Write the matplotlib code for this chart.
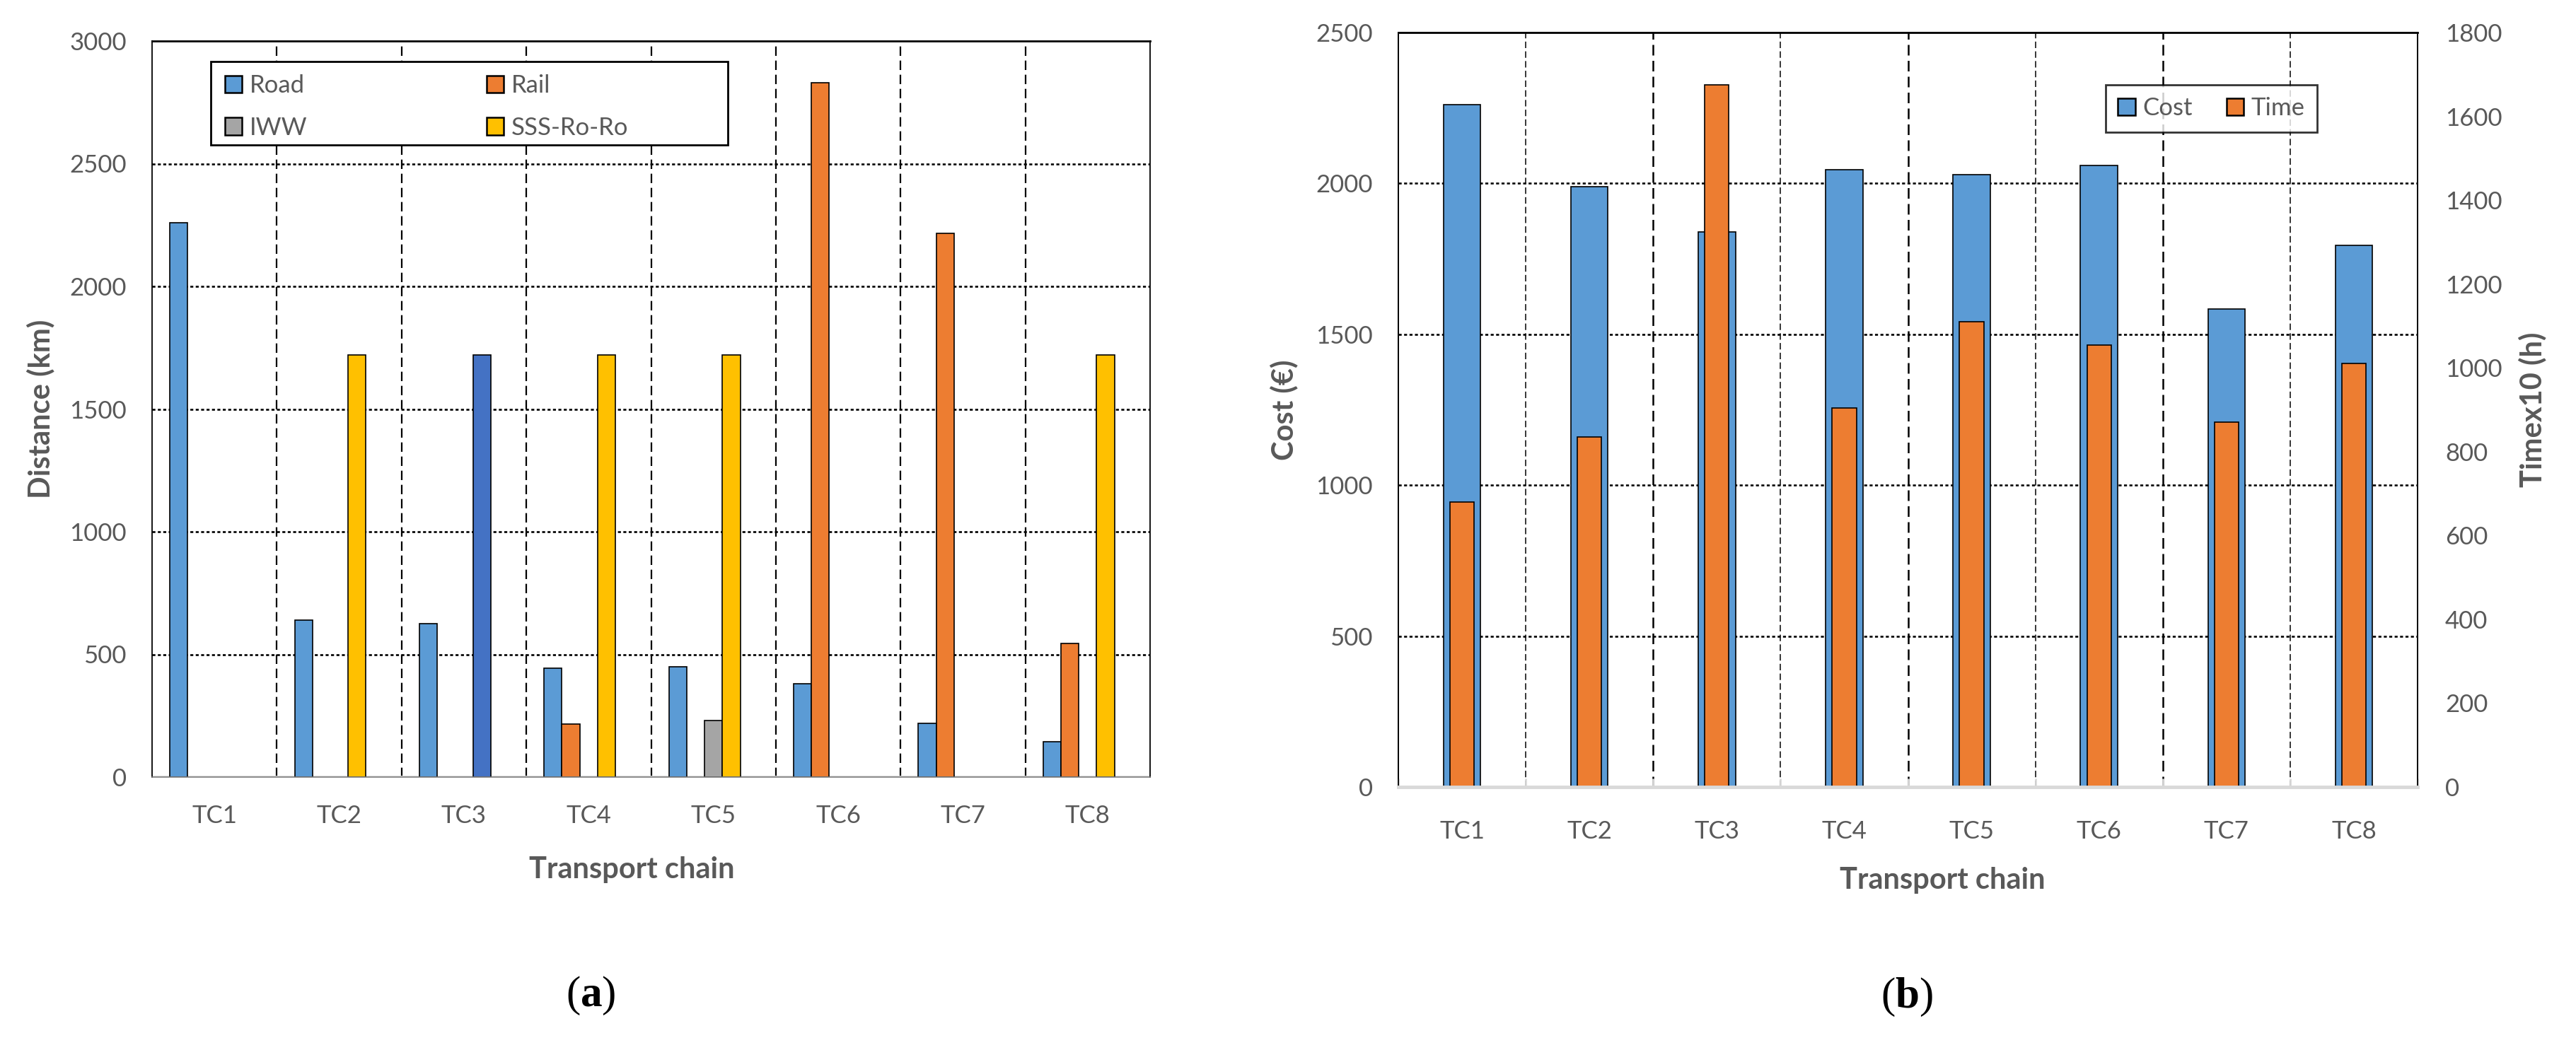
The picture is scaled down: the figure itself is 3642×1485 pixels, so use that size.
import numpy as np
import matplotlib
matplotlib.use("Agg")
import matplotlib.pyplot as plt
from matplotlib.patches import Patch, Rectangle

plt.rcParams["font.family"] = ["Lato", "DejaVu Sans"]
plt.rcParams["mathtext.fontset"] = "custom"
plt.rcParams["mathtext.bf"] = "Liberation Serif:bold"
plt.rcParams["mathtext.rm"] = "Liberation Serif"

# data
chains = ["TC1", "TC2", "TC3", "TC4", "TC5", "TC6", "TC7", "TC8"]

road = [2260, 640, 625, 445, 450, 380, 220, 145]
rail = [0, 0, 0, 215, 0, 2830, 2215, 545]
iww = [0, 0, 0, 0, 230, 0, 0, 0]
sss = [0, 1720, 1720, 1720, 1720, 0, 0, 1720]

cost = [2260, 1990, 1840, 2045, 2030, 2060, 1585, 1795]
time10 = [680, 835, 1675, 905, 1110, 1055, 870, 1010]

W, H = 3642, 1485
GRAY = "#595959"
TICK = 25
LAB = 30

fig = plt.figure(figsize=(W / 100, H / 100), dpi=100)

x = np.arange(len(chains))

# ---------------- (a) distances ----------------
ax = fig.add_axes([215 / W, (H - 1099) / H, 1411 / W, 1041 / H])

w = 0.143
series = [
    ("Road", road, "#5B9BD5", -2),
    ("Rail", rail, "#ED7D31", -1),
    ("IWW", iww, "#A5A5A5", 0),
    ("SSS-Ro-Ro", sss, "#FFC000", 1),
]
handles = {}
for name, vals, col, slot in series:
    vals = np.array(vals, dtype=float)
    idx = np.nonzero(vals > 0)[0]
    colors = [col] * len(idx)
    if name == "SSS-Ro-Ro":
        # TC3 point is drawn in a darker blue in the source
        colors = ["#4472C4" if i == 2 else col for i in idx]
    ax.bar(x[idx] + slot * w, vals[idx], width=w, color=colors,
           edgecolor="black", linewidth=1.2, zorder=2)
    handles[name] = Patch(facecolor=col, edgecolor="black", linewidth=1.8, label=name)

ax.set_xlim(-0.5, 7.5)
ax.set_ylim(0, 3000)
ax.set_yticks(np.arange(0, 3001, 500))
ax.set_xticks(x)
ax.set_xticklabels(chains)

for yv in np.arange(500, 3000, 500):
    ax.axhline(yv, color="black", lw=1.9, ls=(0, (1.6, 1.3)), zorder=0.5)
for xv in np.arange(0.5, 7, 1):
    ax.axvline(xv, color="black", lw=1.6, ls=(0, (6, 3)), zorder=0.5)
ax.axhline(0, color="#D9D9D9", lw=3.5, zorder=1.5)

ax.tick_params(axis="both", length=0, labelsize=TICK, labelcolor=GRAY)
ax.tick_params(axis="y", pad=26)
ax.tick_params(axis="x", pad=28)
for s in ["top", "left", "right"]:
    ax.spines[s].set_color("black")
    ax.spines[s].set_linewidth(1.3)
ax.spines["top"].set_linewidth(2)
ax.spines["bottom"].set_color("#7F7F7F")
ax.spines["bottom"].set_linewidth(1.2)

ax.set_ylabel("Distance (km)", fontsize=LAB, fontweight="bold", color=GRAY)
ax.yaxis.set_label_coords(-0.112, 0.5)
ax.yaxis.label.set_va("center")
ax.set_xlabel("Transport chain", fontsize=LAB, fontweight="bold", color=GRAY)
ax.xaxis.set_label_coords(0.481, -0.126)
ax.xaxis.label.set_va("center")

# legend box drawn separately so the columns can sit where Excel put them
ax.add_patch(Rectangle((0.0588, 0.859), 0.518, 0.113, transform=ax.transAxes,
                       facecolor="white", edgecolor="black", lw=2, zorder=3))
# column-major fill: order gives Road | Rail on row 1, IWW | SSS on row 2
leg_order = ["Road", "IWW", "Rail", "SSS-Ro-Ro"]
leg = ax.legend(handles=[handles[k] for k in leg_order], ncol=2, loc="upper left",
                bbox_to_anchor=(0.073, 0.955), frameon=False,
                fontsize=TICK, handlelength=0.7, handleheight=0.7,
                handletextpad=0.3, columnspacing=7.3,
                borderaxespad=0, labelspacing=0.8, borderpad=0)
for t in leg.get_texts():
    t.set_color(GRAY)

# ---------------- (b) cost and time ----------------
bx = fig.add_axes([1977 / W, (H - 1113) / H, 1441 / W, 1067 / H])
bx2 = bx.twinx()

bx.bar(x, cost, width=0.292, color="#5B9BD5", edgecolor="black",
       linewidth=1.2, zorder=2)
bx2.bar(x, time10, width=0.19, color="#ED7D31", edgecolor="black",
        linewidth=1.2, zorder=2)

bx.set_xlim(-0.5, 7.5)
bx.set_ylim(0, 2500)
bx2.set_ylim(0, 1800)
bx.set_yticks(np.arange(0, 2501, 500))
bx2.set_yticks(np.arange(0, 1801, 200))
bx.set_xticks(x)
bx.set_xticklabels(chains)
bx.set_xticks(np.arange(-0.5, 8, 1), minor=True)

for yv in np.arange(500, 2500, 500):
    bx.axhline(yv, color="black", lw=1.9, ls=(0, (1.6, 1.3)), zorder=0.5)
for k, xv in enumerate(np.arange(0.5, 7, 1)):
    lw = 1.1 if k % 2 == 0 else 1.8
    bx.axvline(xv, color="black", lw=lw, ls=(0, (6, 3)), zorder=0.5)

bx.tick_params(axis="y", length=0, labelsize=TICK, labelcolor=GRAY, pad=26)
bx2.tick_params(axis="y", length=0, labelsize=TICK, labelcolor=GRAY, pad=28)
bx.tick_params(axis="x", length=0, labelsize=TICK, labelcolor=GRAY, pad=34)
bx.tick_params(axis="x", which="minor", length=0)

# bottom axis line with light ticks drawn above the bars
bx2.xaxis.set_visible(True)
bx2.tick_params(axis="x", which="both", direction="in", length=9, width=2,
                color="#D9D9D9", labelbottom=False, top=False)
bx2.spines["bottom"].set_color("#D9D9D9")
bx2.spines["bottom"].set_linewidth(3.5)
for s in ["top", "left", "right"]:
    bx.spines[s].set_color("black")
    bx.spines[s].set_linewidth(1.3)
bx.spines["bottom"].set_visible(False)
bx2.spines["top"].set_color("black")
bx2.spines["top"].set_linewidth(2)
bx2.spines["right"].set_color("black")
bx2.spines["right"].set_linewidth(1.3)
bx2.spines["left"].set_color("black")
bx2.spines["left"].set_linewidth(1.3)

bx.set_ylabel("Cost (€)", fontsize=LAB, fontweight="bold", color=GRAY)
bx.yaxis.set_label_coords(-0.112, 0.5)
bx.yaxis.label.set_va("center")
bx2.set_ylabel("Timex10 (h)", fontsize=LAB, fontweight="bold", color=GRAY)
bx2.yaxis.set_label_coords(1.113, 0.5)
bx2.yaxis.label.set_va("center")
bx.set_xlabel("Transport chain", fontsize=LAB, fontweight="bold", color=GRAY)
bx.xaxis.set_label_coords(0.534, -0.124)
bx.xaxis.label.set_va("center")

h2 = [Patch(facecolor="#5B9BD5", edgecolor="black", linewidth=1.8, label="Cost"),
      Patch(facecolor="#ED7D31", edgecolor="black", linewidth=1.8, label="Time")]
leg2 = bx2.legend(handles=h2, ncol=2, loc="lower left",
                  bbox_to_anchor=(0.694, 0.868, 0.2075, 0.072), mode="expand",
                  fontsize=TICK, frameon=True, fancybox=False,
                  handlelength=0.7, handleheight=0.7, handletextpad=0.3,
                  columnspacing=0.5, borderaxespad=0, borderpad=0.5)
leg2.get_frame().set_edgecolor("black")
leg2.get_frame().set_linewidth(2)
for t in leg2.get_texts():
    t.set_color(GRAY)

# panel captions
fig.text(835 / W, 1 - 1408 / H, r"($\mathbf{a}$)", fontsize=44,
         family="Liberation Serif", ha="center", va="center")
fig.text(2696 / W, 1 - 1410 / H, r"($\mathbf{b}$)", fontsize=44,
         family="Liberation Serif", ha="center", va="center")

fig.savefig("out.png", dpi=100)
